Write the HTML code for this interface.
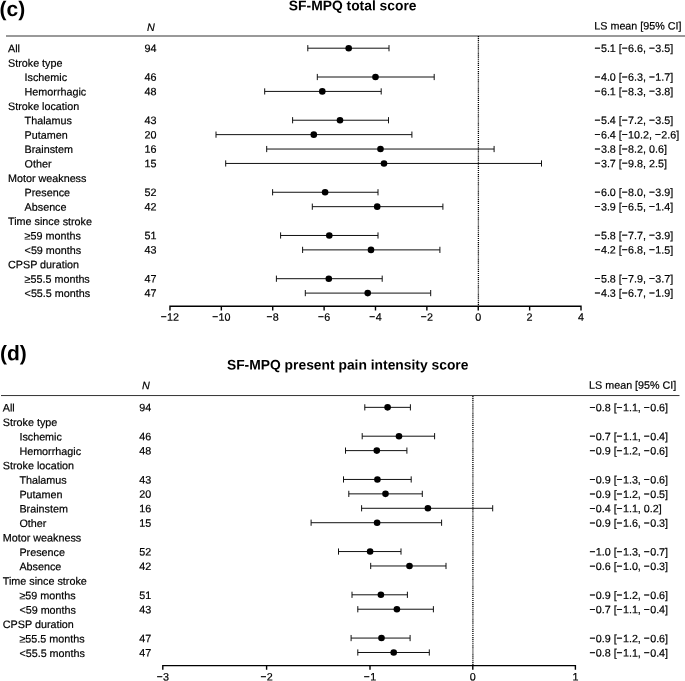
<!DOCTYPE html>
<html lang="en"><head><meta charset="utf-8"><title>SF-MPQ forest plots</title>
<style>
html,body{margin:0;padding:0;background:#fff;}
body{width:685px;height:681px;overflow:hidden;}
svg{display:block;font-family:"Liberation Sans",Arial,Helvetica,sans-serif;}
.t{font-size:10.78px;fill:#000;stroke:#000;stroke-width:0.2px;}
.r{font-size:10.75px;}
.m{font-size:10.1px;stroke-width:0.28px;}
.tt{font-size:13.85px;font-weight:bold;fill:#000;}
.pl{font-size:21px;font-weight:bold;fill:#000;}
.w{stroke:#111;stroke-width:1;fill:none;}
.z{stroke:#000;stroke-width:1.3;stroke-dasharray:1.15 0.91;}
.ax{stroke:#000;fill:none;stroke-linejoin:miter;}
</style></head><body>
<svg width="685" height="681" viewBox="0 0 685 681">
<rect width="685" height="681" fill="#fff"/>
<g id="panel-c-plot">
<line x1="6" x2="685" y1="36.00" y2="36.00" stroke="#777" stroke-width="1.3"/>
<line x1="478.40" x2="478.40" y1="36" y2="306.25" class="z"/>
<path d="M307.80 48.20H389.00M307.80 45.10v6.2M389.00 45.10v6.2" class="w"/>
<circle cx="348.70" cy="48.20" r="3.3"/>
<path d="M317.30 77.01H434.20M317.30 73.91v6.2M434.20 73.91v6.2" class="w"/>
<circle cx="375.50" cy="77.01" r="3.3"/>
<path d="M264.70 91.42H381.20M264.70 88.32v6.2M381.20 88.32v6.2" class="w"/>
<circle cx="322.30" cy="91.42" r="3.3"/>
<path d="M292.60 120.23H388.50M292.60 117.13v6.2M388.50 117.13v6.2" class="w"/>
<circle cx="340.00" cy="120.23" r="3.3"/>
<path d="M216.00 134.64H411.90M216.00 131.54v6.2M411.90 131.54v6.2" class="w"/>
<circle cx="313.80" cy="134.64" r="3.3"/>
<path d="M266.70 149.04H494.10M266.70 145.94v6.2M494.10 145.94v6.2" class="w"/>
<circle cx="380.50" cy="149.04" r="3.3"/>
<path d="M225.70 163.45H541.50M225.70 160.35v6.2M541.50 160.35v6.2" class="w"/>
<circle cx="384.00" cy="163.45" r="3.3"/>
<path d="M272.60 192.26H378.00M272.60 189.16v6.2M378.00 189.16v6.2" class="w"/>
<circle cx="325.10" cy="192.26" r="3.3"/>
<path d="M312.30 206.67H442.90M312.30 203.57v6.2M442.90 203.57v6.2" class="w"/>
<circle cx="377.20" cy="206.67" r="3.3"/>
<path d="M280.60 235.48H378.00M280.60 232.38v6.2M378.00 232.38v6.2" class="w"/>
<circle cx="329.30" cy="235.48" r="3.3"/>
<path d="M302.60 249.88H439.90M302.60 246.78v6.2M439.90 246.78v6.2" class="w"/>
<circle cx="371.00" cy="249.88" r="3.3"/>
<path d="M276.40 278.70H382.20M276.40 275.60v6.2M382.20 275.60v6.2" class="w"/>
<circle cx="328.80" cy="278.70" r="3.3"/>
<path d="M305.30 293.10H430.70M305.30 290.00v6.2M430.70 290.00v6.2" class="w"/>
<circle cx="367.70" cy="293.10" r="3.3"/>
<path d="M169.97 310.55V306.25H581.01V310.55M221.35 306.25v4.3M272.73 306.25v4.3M324.11 306.25v4.3M375.49 306.25v4.3M426.87 306.25v4.3M478.25 306.25v4.3M529.63 306.25v4.3" class="ax" stroke-width="1.4"/>
</g>
<g id="panel-d-plot">
<line x1="1" x2="679.5" y1="395.55" y2="395.55" stroke="#333" stroke-width="1.0"/>
<line x1="472.90" x2="472.90" y1="396" y2="665.60" class="z"/>
<path d="M364.80 407.35H410.40M364.80 404.25v6.2M410.40 404.25v6.2" class="w"/>
<circle cx="387.60" cy="407.35" r="3.3"/>
<path d="M362.20 436.19H434.60M362.20 433.09v6.2M434.60 433.09v6.2" class="w"/>
<circle cx="399.00" cy="436.19" r="3.3"/>
<path d="M345.50 450.61H406.90M345.50 447.51v6.2M406.90 447.51v6.2" class="w"/>
<circle cx="376.80" cy="450.61" r="3.3"/>
<path d="M343.50 479.45H411.20M343.50 476.35v6.2M411.20 476.35v6.2" class="w"/>
<circle cx="377.40" cy="479.45" r="3.3"/>
<path d="M348.80 493.87H422.30M348.80 490.77v6.2M422.30 490.77v6.2" class="w"/>
<circle cx="385.50" cy="493.87" r="3.3"/>
<path d="M361.60 508.29H492.70M361.60 505.19v6.2M492.70 505.19v6.2" class="w"/>
<circle cx="427.90" cy="508.29" r="3.3"/>
<path d="M311.10 522.71H441.60M311.10 519.61v6.2M441.60 519.61v6.2" class="w"/>
<circle cx="377.10" cy="522.71" r="3.3"/>
<path d="M338.50 551.55H401.00M338.50 548.45v6.2M401.00 548.45v6.2" class="w"/>
<circle cx="370.10" cy="551.55" r="3.3"/>
<path d="M370.70 565.97H446.00M370.70 562.87v6.2M446.00 562.87v6.2" class="w"/>
<circle cx="409.50" cy="565.97" r="3.3"/>
<path d="M352.00 594.81H407.40M352.00 591.71v6.2M407.40 591.71v6.2" class="w"/>
<circle cx="380.90" cy="594.81" r="3.3"/>
<path d="M357.80 609.23H433.40M357.80 606.13v6.2M433.40 606.13v6.2" class="w"/>
<circle cx="396.90" cy="609.23" r="3.3"/>
<path d="M351.10 638.07H410.10M351.10 634.97v6.2M410.10 634.97v6.2" class="w"/>
<circle cx="381.50" cy="638.07" r="3.3"/>
<path d="M357.80 652.49H429.30M357.80 649.39v6.2M429.30 649.39v6.2" class="w"/>
<circle cx="393.70" cy="652.49" r="3.3"/>
<path d="M162.80 669.70V665.60H575.40V669.70M266.60 665.60v4.1M370.00 665.60v4.1M472.80 665.60v4.1" class="ax" stroke-width="1.4"/>
</g>
<g id="panel-c-text" transform="matrix(1 0.0005 0 1 0 0)">
<text x="-0.50" y="16.00" class="pl">(c)</text>
<text x="352.70" y="10.12" class="tt" text-anchor="middle">SF-MPQ total score</text>
<text x="151.00" y="30.87" class="t" font-style="italic" text-anchor="middle">N</text>
<text x="594.30" y="29.10" class="t r">LS mean [95% CI]</text>
<text x="8.00" y="52.30" class="t">All</text>
<text x="150.50" y="51.92" class="t" text-anchor="middle">94</text>
<text x="594.60" y="51.70" class="t r"><tspan class="m" dy="-0.6">−</tspan><tspan dx="0.4" dy="0.6">5.1 [</tspan><tspan class="m" dy="-0.6">−</tspan><tspan dx="0.4" dy="0.6">6.6, </tspan><tspan class="m" dy="-0.6">−</tspan><tspan dx="0.4" dy="0.6">3.5]</tspan></text>
<text x="8.00" y="66.70" class="t">Stroke type</text>
<text x="24.60" y="81.09" class="t">Ischemic</text>
<text x="150.50" y="80.72" class="t" text-anchor="middle">46</text>
<text x="594.60" y="80.50" class="t r"><tspan class="m" dy="-0.6">−</tspan><tspan dx="0.4" dy="0.6">4.0 [</tspan><tspan class="m" dy="-0.6">−</tspan><tspan dx="0.4" dy="0.6">6.3, </tspan><tspan class="m" dy="-0.6">−</tspan><tspan dx="0.4" dy="0.6">1.7]</tspan></text>
<text x="24.60" y="95.49" class="t">Hemorrhagic</text>
<text x="150.50" y="95.12" class="t" text-anchor="middle">48</text>
<text x="594.60" y="94.90" class="t r"><tspan class="m" dy="-0.6">−</tspan><tspan dx="0.4" dy="0.6">6.1 [</tspan><tspan class="m" dy="-0.6">−</tspan><tspan dx="0.4" dy="0.6">8.3, </tspan><tspan class="m" dy="-0.6">−</tspan><tspan dx="0.4" dy="0.6">3.8]</tspan></text>
<text x="8.00" y="109.90" class="t">Stroke location</text>
<text x="24.60" y="124.29" class="t">Thalamus</text>
<text x="150.50" y="123.92" class="t" text-anchor="middle">43</text>
<text x="594.60" y="123.70" class="t r"><tspan class="m" dy="-0.6">−</tspan><tspan dx="0.4" dy="0.6">5.4 [</tspan><tspan class="m" dy="-0.6">−</tspan><tspan dx="0.4" dy="0.6">7.2, </tspan><tspan class="m" dy="-0.6">−</tspan><tspan dx="0.4" dy="0.6">3.5]</tspan></text>
<text x="24.60" y="138.69" class="t">Putamen</text>
<text x="150.50" y="138.32" class="t" text-anchor="middle">20</text>
<text x="594.60" y="138.10" class="t r"><tspan class="m" dy="-0.6">−</tspan><tspan dx="0.4" dy="0.6">6.4 [</tspan><tspan class="m" dy="-0.6">−</tspan><tspan dx="0.4" dy="0.6">10.2, </tspan><tspan class="m" dy="-0.6">−</tspan><tspan dx="0.4" dy="0.6">2.6]</tspan></text>
<text x="24.60" y="153.09" class="t">Brainstem</text>
<text x="150.50" y="152.72" class="t" text-anchor="middle">16</text>
<text x="594.60" y="152.50" class="t r"><tspan class="m" dy="-0.6">−</tspan><tspan dx="0.4" dy="0.6">3.8 [</tspan><tspan class="m" dy="-0.6">−</tspan><tspan dx="0.4" dy="0.6">8.2, 0.6]</tspan></text>
<text x="24.60" y="167.49" class="t">Other</text>
<text x="150.50" y="167.12" class="t" text-anchor="middle">15</text>
<text x="594.60" y="166.90" class="t r"><tspan class="m" dy="-0.6">−</tspan><tspan dx="0.4" dy="0.6">3.7 [</tspan><tspan class="m" dy="-0.6">−</tspan><tspan dx="0.4" dy="0.6">9.8, 2.5]</tspan></text>
<text x="8.00" y="181.90" class="t">Motor weakness</text>
<text x="24.60" y="196.29" class="t">Presence</text>
<text x="150.50" y="195.92" class="t" text-anchor="middle">52</text>
<text x="594.60" y="195.70" class="t r"><tspan class="m" dy="-0.6">−</tspan><tspan dx="0.4" dy="0.6">6.0 [</tspan><tspan class="m" dy="-0.6">−</tspan><tspan dx="0.4" dy="0.6">8.0, </tspan><tspan class="m" dy="-0.6">−</tspan><tspan dx="0.4" dy="0.6">3.9]</tspan></text>
<text x="24.60" y="210.69" class="t">Absence</text>
<text x="150.50" y="210.32" class="t" text-anchor="middle">42</text>
<text x="594.60" y="210.10" class="t r"><tspan class="m" dy="-0.6">−</tspan><tspan dx="0.4" dy="0.6">3.9 [</tspan><tspan class="m" dy="-0.6">−</tspan><tspan dx="0.4" dy="0.6">6.5, </tspan><tspan class="m" dy="-0.6">−</tspan><tspan dx="0.4" dy="0.6">1.4]</tspan></text>
<text x="8.00" y="225.10" class="t">Time since stroke</text>
<text x="24.60" y="239.49" class="t">≥59 months</text>
<text x="150.50" y="239.12" class="t" text-anchor="middle">51</text>
<text x="594.60" y="238.90" class="t r"><tspan class="m" dy="-0.6">−</tspan><tspan dx="0.4" dy="0.6">5.8 [</tspan><tspan class="m" dy="-0.6">−</tspan><tspan dx="0.4" dy="0.6">7.7, </tspan><tspan class="m" dy="-0.6">−</tspan><tspan dx="0.4" dy="0.6">3.9]</tspan></text>
<text x="24.60" y="253.89" class="t">&lt;59 months</text>
<text x="150.50" y="253.52" class="t" text-anchor="middle">43</text>
<text x="594.60" y="253.30" class="t r"><tspan class="m" dy="-0.6">−</tspan><tspan dx="0.4" dy="0.6">4.2 [</tspan><tspan class="m" dy="-0.6">−</tspan><tspan dx="0.4" dy="0.6">6.8, </tspan><tspan class="m" dy="-0.6">−</tspan><tspan dx="0.4" dy="0.6">1.5]</tspan></text>
<text x="8.00" y="268.30" class="t">CPSP duration</text>
<text x="24.60" y="282.69" class="t">≥55.5 months</text>
<text x="150.50" y="282.32" class="t" text-anchor="middle">47</text>
<text x="594.60" y="282.10" class="t r"><tspan class="m" dy="-0.6">−</tspan><tspan dx="0.4" dy="0.6">5.8 [</tspan><tspan class="m" dy="-0.6">−</tspan><tspan dx="0.4" dy="0.6">7.9, </tspan><tspan class="m" dy="-0.6">−</tspan><tspan dx="0.4" dy="0.6">3.7]</tspan></text>
<text x="24.60" y="297.09" class="t">&lt;55.5 months</text>
<text x="150.50" y="296.72" class="t" text-anchor="middle">47</text>
<text x="594.60" y="296.50" class="t r"><tspan class="m" dy="-0.6">−</tspan><tspan dx="0.4" dy="0.6">4.3 [</tspan><tspan class="m" dy="-0.6">−</tspan><tspan dx="0.4" dy="0.6">6.7, </tspan><tspan class="m" dy="-0.6">−</tspan><tspan dx="0.4" dy="0.6">1.9]</tspan></text>
<text x="169.97" y="320.57" class="t" text-anchor="middle"><tspan class="m" dy="-0.6">−</tspan><tspan dx="0.4" dy="0.6">12</tspan></text>
<text x="221.35" y="320.54" class="t" text-anchor="middle"><tspan class="m" dy="-0.6">−</tspan><tspan dx="0.4" dy="0.6">10</tspan></text>
<text x="272.73" y="320.51" class="t" text-anchor="middle"><tspan class="m" dy="-0.6">−</tspan><tspan dx="0.4" dy="0.6">8</tspan></text>
<text x="324.11" y="320.49" class="t" text-anchor="middle"><tspan class="m" dy="-0.6">−</tspan><tspan dx="0.4" dy="0.6">6</tspan></text>
<text x="375.49" y="320.46" class="t" text-anchor="middle"><tspan class="m" dy="-0.6">−</tspan><tspan dx="0.4" dy="0.6">4</tspan></text>
<text x="426.87" y="320.44" class="t" text-anchor="middle"><tspan class="m" dy="-0.6">−</tspan><tspan dx="0.4" dy="0.6">2</tspan></text>
<text x="478.25" y="320.41" class="t" text-anchor="middle">0</text>
<text x="529.63" y="320.39" class="t" text-anchor="middle">2</text>
<text x="581.01" y="320.36" class="t" text-anchor="middle">4</text>
</g>
<g id="panel-d-text" transform="matrix(1 0.0005 0 1 0 0)">
<text x="-0.10" y="360.30" class="pl">(d)</text>
<text x="347.70" y="369.38" class="tt" text-anchor="middle">SF-MPQ present pain intensity score</text>
<text x="145.80" y="389.08" class="t" font-style="italic" text-anchor="middle">N</text>
<text x="589.10" y="388.51" class="t r">LS mean [95% CI]</text>
<text x="2.80" y="411.60" class="t">All</text>
<text x="145.30" y="411.23" class="t" text-anchor="middle">94</text>
<text x="589.40" y="411.01" class="t r"><tspan class="m" dy="-0.6">−</tspan><tspan dx="0.4" dy="0.6">0.8 [</tspan><tspan class="m" dy="-0.6">−</tspan><tspan dx="0.4" dy="0.6">1.1, </tspan><tspan class="m" dy="-0.6">−</tspan><tspan dx="0.4" dy="0.6">0.6]</tspan></text>
<text x="2.80" y="426.03" class="t">Stroke type</text>
<text x="19.40" y="440.45" class="t">Ischemic</text>
<text x="145.30" y="440.09" class="t" text-anchor="middle">46</text>
<text x="589.40" y="439.87" class="t r"><tspan class="m" dy="-0.6">−</tspan><tspan dx="0.4" dy="0.6">0.7 [</tspan><tspan class="m" dy="-0.6">−</tspan><tspan dx="0.4" dy="0.6">1.1, </tspan><tspan class="m" dy="-0.6">−</tspan><tspan dx="0.4" dy="0.6">0.4]</tspan></text>
<text x="19.40" y="454.88" class="t">Hemorrhagic</text>
<text x="145.30" y="454.52" class="t" text-anchor="middle">48</text>
<text x="589.40" y="454.30" class="t r"><tspan class="m" dy="-0.6">−</tspan><tspan dx="0.4" dy="0.6">0.9 [</tspan><tspan class="m" dy="-0.6">−</tspan><tspan dx="0.4" dy="0.6">1.2, </tspan><tspan class="m" dy="-0.6">−</tspan><tspan dx="0.4" dy="0.6">0.6]</tspan></text>
<text x="2.80" y="469.32" class="t">Stroke location</text>
<text x="19.40" y="483.74" class="t">Thalamus</text>
<text x="145.30" y="483.38" class="t" text-anchor="middle">43</text>
<text x="589.40" y="483.16" class="t r"><tspan class="m" dy="-0.6">−</tspan><tspan dx="0.4" dy="0.6">0.9 [</tspan><tspan class="m" dy="-0.6">−</tspan><tspan dx="0.4" dy="0.6">1.3, </tspan><tspan class="m" dy="-0.6">−</tspan><tspan dx="0.4" dy="0.6">0.6]</tspan></text>
<text x="19.40" y="498.17" class="t">Putamen</text>
<text x="145.30" y="497.81" class="t" text-anchor="middle">20</text>
<text x="589.40" y="497.59" class="t r"><tspan class="m" dy="-0.6">−</tspan><tspan dx="0.4" dy="0.6">0.9 [</tspan><tspan class="m" dy="-0.6">−</tspan><tspan dx="0.4" dy="0.6">1.2, </tspan><tspan class="m" dy="-0.6">−</tspan><tspan dx="0.4" dy="0.6">0.5]</tspan></text>
<text x="19.40" y="512.60" class="t">Brainstem</text>
<text x="145.30" y="512.24" class="t" text-anchor="middle">16</text>
<text x="589.40" y="512.02" class="t r"><tspan class="m" dy="-0.6">−</tspan><tspan dx="0.4" dy="0.6">0.4 [</tspan><tspan class="m" dy="-0.6">−</tspan><tspan dx="0.4" dy="0.6">1.1, 0.2]</tspan></text>
<text x="19.40" y="527.03" class="t">Other</text>
<text x="145.30" y="526.67" class="t" text-anchor="middle">15</text>
<text x="589.40" y="526.45" class="t r"><tspan class="m" dy="-0.6">−</tspan><tspan dx="0.4" dy="0.6">0.9 [</tspan><tspan class="m" dy="-0.6">−</tspan><tspan dx="0.4" dy="0.6">1.6, </tspan><tspan class="m" dy="-0.6">−</tspan><tspan dx="0.4" dy="0.6">0.3]</tspan></text>
<text x="2.80" y="541.47" class="t">Motor weakness</text>
<text x="19.40" y="555.89" class="t">Presence</text>
<text x="145.30" y="555.53" class="t" text-anchor="middle">52</text>
<text x="589.40" y="555.31" class="t r"><tspan class="m" dy="-0.6">−</tspan><tspan dx="0.4" dy="0.6">1.0 [</tspan><tspan class="m" dy="-0.6">−</tspan><tspan dx="0.4" dy="0.6">1.3, </tspan><tspan class="m" dy="-0.6">−</tspan><tspan dx="0.4" dy="0.6">0.7]</tspan></text>
<text x="19.40" y="570.32" class="t">Absence</text>
<text x="145.30" y="569.96" class="t" text-anchor="middle">42</text>
<text x="589.40" y="569.74" class="t r"><tspan class="m" dy="-0.6">−</tspan><tspan dx="0.4" dy="0.6">0.6 [</tspan><tspan class="m" dy="-0.6">−</tspan><tspan dx="0.4" dy="0.6">1.0, </tspan><tspan class="m" dy="-0.6">−</tspan><tspan dx="0.4" dy="0.6">0.3]</tspan></text>
<text x="2.80" y="584.76" class="t">Time since stroke</text>
<text x="19.40" y="599.18" class="t">≥59 months</text>
<text x="145.30" y="598.82" class="t" text-anchor="middle">51</text>
<text x="589.40" y="598.60" class="t r"><tspan class="m" dy="-0.6">−</tspan><tspan dx="0.4" dy="0.6">0.9 [</tspan><tspan class="m" dy="-0.6">−</tspan><tspan dx="0.4" dy="0.6">1.2, </tspan><tspan class="m" dy="-0.6">−</tspan><tspan dx="0.4" dy="0.6">0.6]</tspan></text>
<text x="19.40" y="613.61" class="t">&lt;59 months</text>
<text x="145.30" y="613.25" class="t" text-anchor="middle">43</text>
<text x="589.40" y="613.03" class="t r"><tspan class="m" dy="-0.6">−</tspan><tspan dx="0.4" dy="0.6">0.7 [</tspan><tspan class="m" dy="-0.6">−</tspan><tspan dx="0.4" dy="0.6">1.1, </tspan><tspan class="m" dy="-0.6">−</tspan><tspan dx="0.4" dy="0.6">0.4]</tspan></text>
<text x="2.80" y="628.05" class="t">CPSP duration</text>
<text x="19.40" y="642.47" class="t">≥55.5 months</text>
<text x="145.30" y="642.11" class="t" text-anchor="middle">47</text>
<text x="589.40" y="641.89" class="t r"><tspan class="m" dy="-0.6">−</tspan><tspan dx="0.4" dy="0.6">0.9 [</tspan><tspan class="m" dy="-0.6">−</tspan><tspan dx="0.4" dy="0.6">1.2, </tspan><tspan class="m" dy="-0.6">−</tspan><tspan dx="0.4" dy="0.6">0.6]</tspan></text>
<text x="19.40" y="656.90" class="t">&lt;55.5 months</text>
<text x="145.30" y="656.54" class="t" text-anchor="middle">47</text>
<text x="589.40" y="656.32" class="t r"><tspan class="m" dy="-0.6">−</tspan><tspan dx="0.4" dy="0.6">0.8 [</tspan><tspan class="m" dy="-0.6">−</tspan><tspan dx="0.4" dy="0.6">1.1, </tspan><tspan class="m" dy="-0.6">−</tspan><tspan dx="0.4" dy="0.6">0.4]</tspan></text>
<text x="162.80" y="680.52" class="t" text-anchor="middle"><tspan class="m" dy="-0.6">−</tspan><tspan dx="0.4" dy="0.6">3</tspan></text>
<text x="266.60" y="680.47" class="t" text-anchor="middle"><tspan class="m" dy="-0.6">−</tspan><tspan dx="0.4" dy="0.6">2</tspan></text>
<text x="370.00" y="680.42" class="t" text-anchor="middle"><tspan class="m" dy="-0.6">−</tspan><tspan dx="0.4" dy="0.6">1</tspan></text>
<text x="472.80" y="680.36" class="t" text-anchor="middle">0</text>
<text x="575.40" y="680.31" class="t" text-anchor="middle">1</text>
</g>
</svg>
</body></html>
